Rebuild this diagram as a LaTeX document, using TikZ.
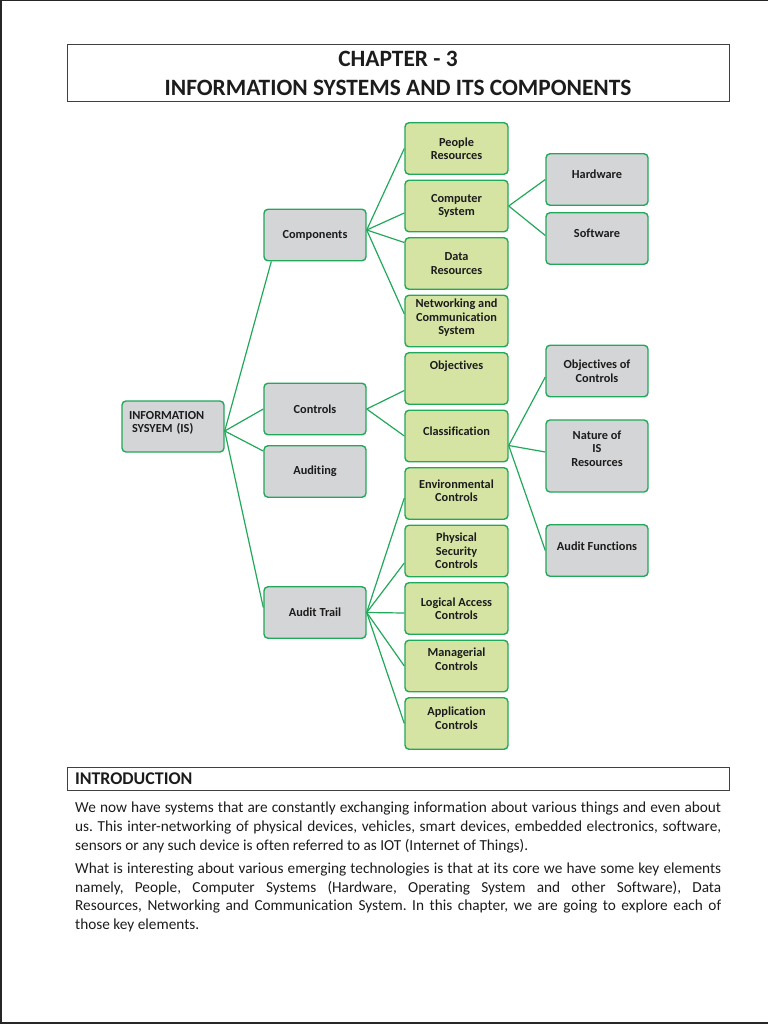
\documentclass[tikz,border=0pt]{standalone}
\usepackage{fontspec}
\setmainfont{Carlito}[Ligatures=NoCommon]
\usetikzlibrary{positioning}

\definecolor{isgreen}{RGB}{34,168,90}
\definecolor{isleaf}{RGB}{213,228,163}
\definecolor{isgray}{RGB}{212,213,215}
\definecolor{isink}{RGB}{28,28,28}

\frenchspacing
\begin{document}
\begin{tikzpicture}[x=1pt, y=-1pt, node distance=4.6pt,
		box/.style={draw=isgreen, line width=1.4pt, rounded corners=4pt, align=center, text=isink,
			minimum width=102pt, minimum height=51.5pt, inner sep=1pt, font=\fontsize{12.3}{13.5}\selectfont\bfseries},
		graybox/.style={box, fill=isgray},
		leafbox/.style={box, fill=isleaf, minimum width=103pt},
		lift/.style={text depth=#1},
		link/.style={draw=isgreen, line width=1.2pt},
		headbox/.style={draw=black!75, line width=1pt, minimum width=662pt, inner sep=0pt, text=isink}]
	\useasboundingbox (0,0) rectangle (768,1024);
	\draw[line width=2pt, black!85] (768,0.5) -- (1,0.5) -- (1,1023) -- (768,1023);
	
	% headings
	\node[headbox, minimum height=57pt, align=center, font=\fontsize{23.4}{29}\selectfont\bfseries] (title) at (398,73) {CHAPTER - 3\\INFORMATION SYSTEMS AND ITS COMPONENTS};
	\node[headbox, minimum height=23pt, text width=646pt, inner xsep=8pt, align=left, font=\fontsize{17.9}{20}\selectfont\bfseries] (intro) at (398,778.5) {INTRODUCTION};
	
	% root and second level
	\node[graybox, text width=88pt, align=left, inner xsep=7pt, minimum height=51pt, lift=22.5pt] (is) at (173,426.5) {INFORMATION\\\hspace{3pt}SYSYEM (IS)};
	\node[graybox] (comp) at (315,235) {Components};
	\node[graybox] (ctrl) at (315,409) {Controls};
	\node[graybox] (auditing) at (315,471.5) {Auditing};
	\node[graybox] (trail) at (315,612.5) {Audit Trail};
	
	% third level
	\node[leafbox] (people) at (456.5,148.5) {People\\Resources};
	\node[leafbox] (computer) [below=of people] {Computer\\System};
	\node[leafbox] (data) [below=of computer] {Data\\Resources};
	\node[leafbox, lift=8pt] (network) [below=of data] {Networking and\\Communication\\System};
	\node[leafbox] (objectives) [below=of network] {Objectives\\\mbox{}\\\mbox{}};
	\node[leafbox, lift=10pt] (classif) [below=of objectives] {Classification};
	\node[leafbox, lift=6pt] (env) [below=of classif] {Environmental\\Controls};
	\node[leafbox] (physical) [below=of env] {Physical\\Security\\Controls};
	\node[leafbox] (logical) [below=of physical] {Logical Access\\Controls};
	\node[leafbox] (managerial) [below=of logical] {Managerial\\Controls\\\mbox{}};
	\node[leafbox, lift=11pt] (application) [below=of managerial] {Application\\Controls};
	
	% fourth level
	\node[graybox, lift=10pt] (hardware) at (597,179.5) {Hardware};
	\node[graybox, lift=10pt] (software) at (597,238.5) {Software};
	\node[graybox] (objctrl) at (597,371) {Objectives of\\Controls};
	\node[graybox, minimum height=72pt, lift=15pt] (nature) at (597,456) {Nature of\\IS\\Resources};
	\node[graybox, lift=9pt] (auditfn) at (597,550.5) {Audit Functions};
	
	% connectors
	\path[link] ([yshift=-4.5pt]is.east) edge ([xshift=8pt]comp.south west)
		edge (ctrl.west)
		edge ([yshift=-6pt]auditing.north west)
		edge ([yshift=5pt]trail.west);
	\path[link] ([yshift=5pt]comp.east) edge (people.west)
		edge ([yshift=-7pt]computer.west)
		edge ([yshift=21pt]data.west)
		edge ([yshift=7pt]network.west);
	\path[link] (ctrl.east) edge ([yshift=-12pt]objectives.west)
		edge (classif.west);
	\path[link] (computer.east) edge (hardware.west)
		edge ([yshift=3pt]software.west);
	\path[link] ([yshift=-9.5pt]classif.east) edge ([yshift=-6pt]objctrl.west)
		edge ([yshift=4pt]nature.west)
		edge (auditfn.west);
	\path[link] (trail.east) edge ([yshift=-4.5pt]env.west)
		edge ([yshift=-12pt]physical.west)
		edge ([yshift=-4.5pt]logical.west)
		edge (managerial.west)
		edge (application.west);
	
	% introduction text
	\node[anchor=north west, inner sep=0pt, align=left, text=isink, font=\fontsize{15.3}{18.7}\selectfont] (introtext) at (75,802) {%
		\makebox[646pt][s]{We now have systems that are constantly exchanging information about various things and even about}\\
		\makebox[646pt][s]{us. This inter-networking of physical devices, vehicles, smart devices, embedded electronics, software,}\\
		sensors or any such device is often referred to as IOT (Internet of Things).\\[4.5pt]
		\makebox[646pt][s]{What is interesting about various emerging technologies is that at its core we have some key elements}\\
		\makebox[646pt][s]{namely, People, Computer Systems (Hardware, Operating System and other Software), Data}\\
		\makebox[646pt][s]{Resources, Networking and Communication System. In this chapter, we are going to explore each of}\\
		those key elements.};
\end{tikzpicture}
\end{document}
